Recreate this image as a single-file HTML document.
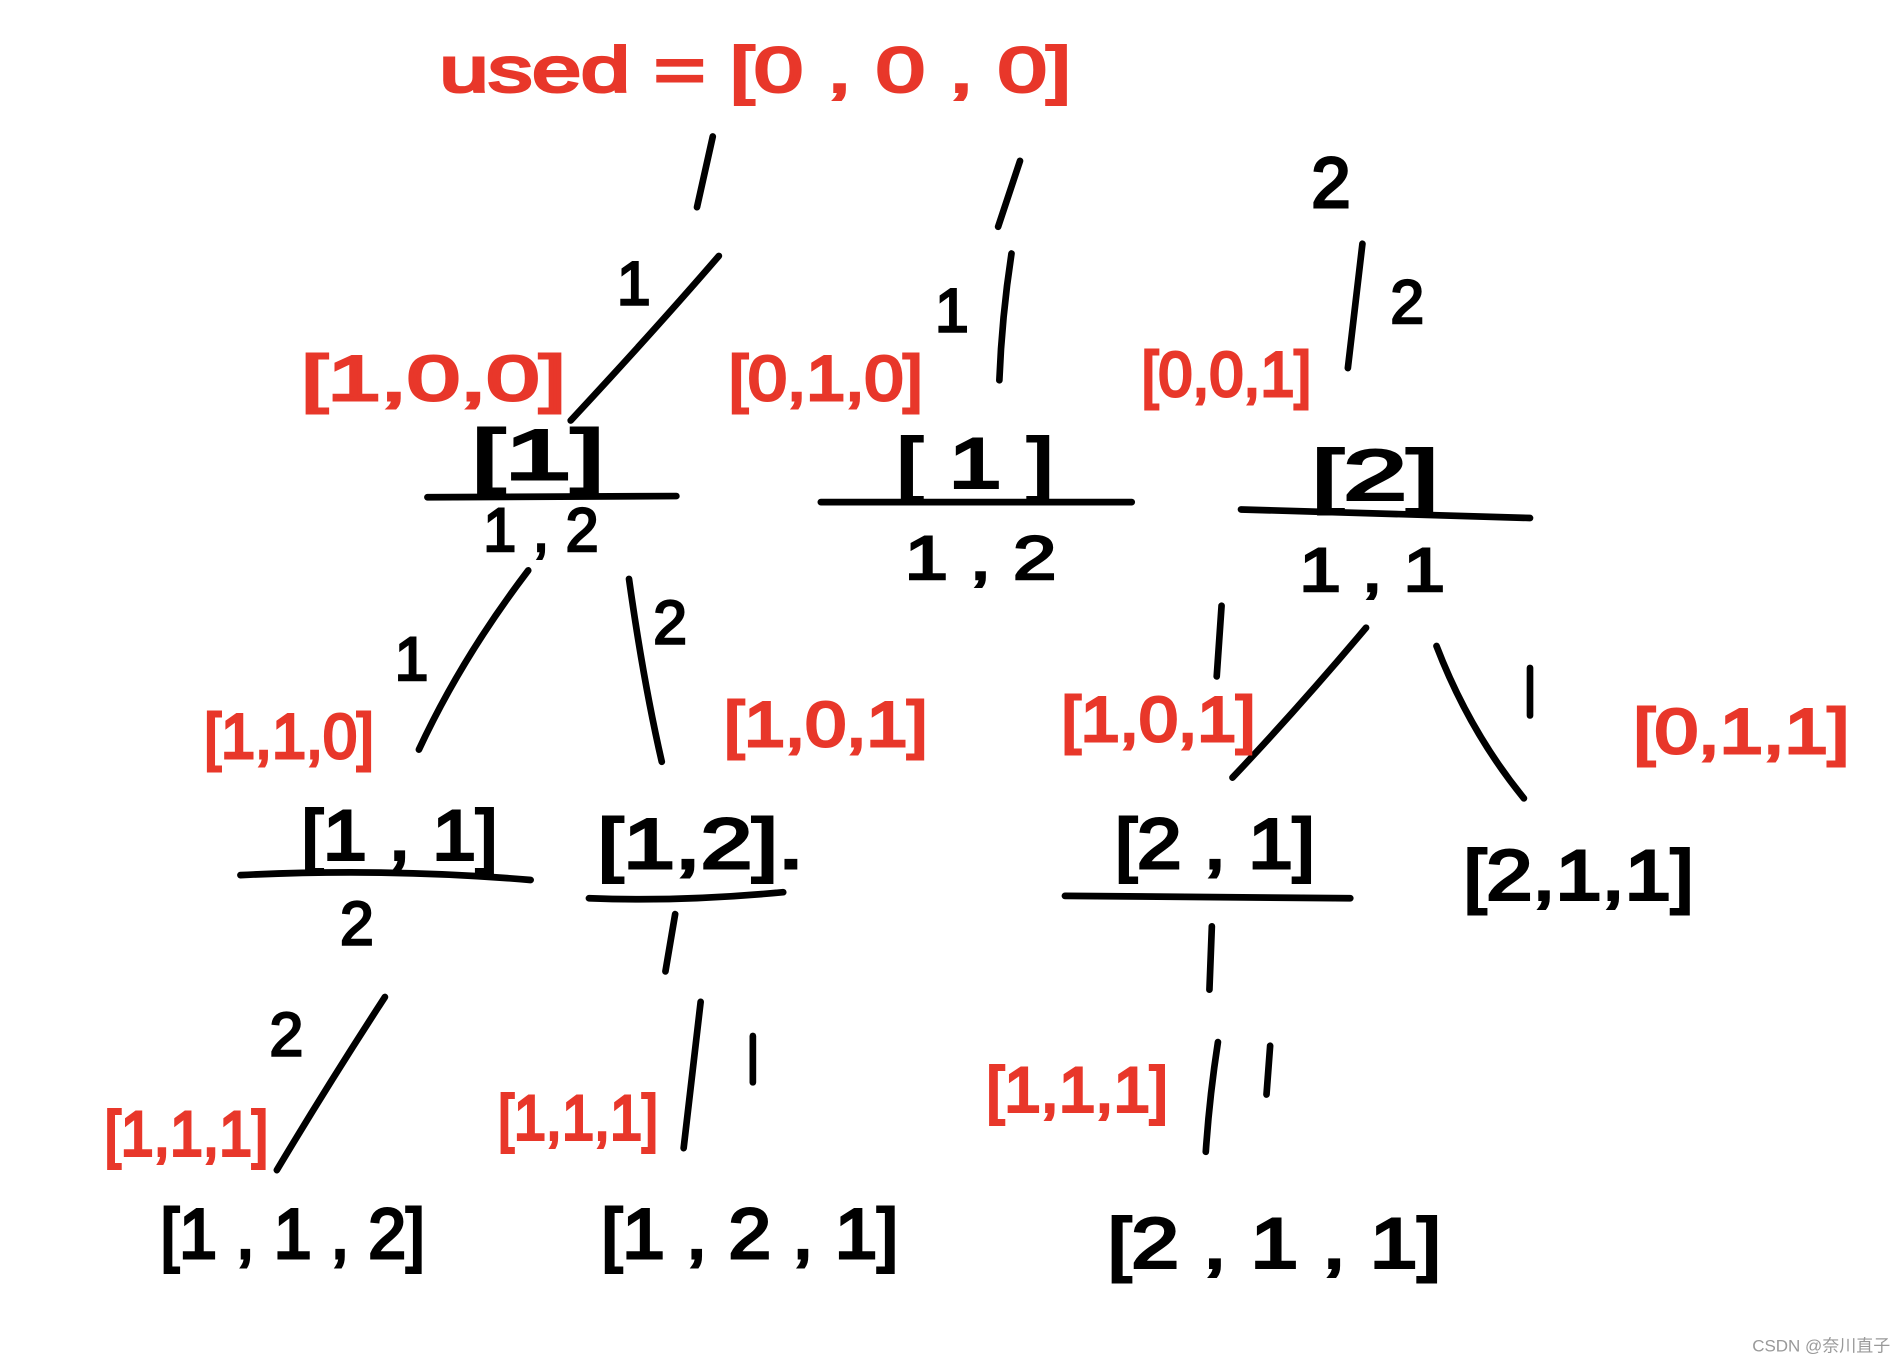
<!DOCTYPE html>
<html><head><meta charset="utf-8"><style>
html,body{margin:0;padding:0;background:#fff;}
svg{display:block;}
text{font-family:"Liberation Sans","Noto Sans CJK SC",sans-serif;}
.r{fill:#e8372a;stroke:#e8372a;stroke-width:2.5;font-size:52px;}
.b{fill:#000;stroke:#000;stroke-width:2.5;font-size:58px;}
.n{fill:#000;stroke:#000;stroke-width:2;font-size:50px;}
</style></head><body>
<svg width="1904" height="1359" viewBox="0 0 1568 1115" preserveAspectRatio="none" xmlns="http://www.w3.org/2000/svg">
<g stroke="#000" stroke-width="5.5" stroke-linecap="round" fill="none">
<path d="M587 112 L574 170"/><path d="M840 132 L822 186"/><path d="M592 210 Q540 270 470 345"/>
<path d="M833 208 Q825 260 823 312"/><path d="M1122 200 Q1115 260 1110 302"/>
<path d="M352 408 L557 407"/><path d="M676 412 L932 412"/><path d="M1022 418 L1260 425"/>
<path d="M435 468 Q380 540 345 615"/><path d="M518 475 Q530 560 545 625"/>
<path d="M1125 515 Q1070 580 1015 638"/><path d="M1183 530 Q1210 600 1255 655"/>
<path d="M198 718 Q320 712 437 722"/><path d="M485 737 Q560 740 645 732"/><path d="M877 735 L1112 737"/>
<path d="M556 750 L548 797"/><path d="M998 760 L996 812"/>
<path d="M317 818 Q270 890 228 960"/><path d="M577 822 Q570 880 563 942"/><path d="M1003 855 Q996 900 993 945"/>
<path d="M620 850 L620 888"/><path d="M1046 858 L1043 898"/>
<path d="M1006 497 L1002 555"/><path d="M1260 548 L1260 587"/>
</g>
<text class="r" x="362" y="75" font-size="76" textLength="520" lengthAdjust="spacingAndGlyphs">used = [0 , 0 , 0]</text>
<text class="r" x="248" y="328" textLength="218" lengthAdjust="spacingAndGlyphs">[1,0,0]</text>
<text class="r" x="600" y="328" textLength="160" lengthAdjust="spacingAndGlyphs">[0,1,0]</text>
<text class="r" x="940" y="325" textLength="140" lengthAdjust="spacingAndGlyphs">[0,0,1]</text>
<text class="r" x="168" y="622" textLength="140" lengthAdjust="spacingAndGlyphs">[1,1,0]</text>
<text class="r" x="596" y="612" textLength="168" lengthAdjust="spacingAndGlyphs">[1,0,1]</text>
<text class="r" x="874" y="608" textLength="160" lengthAdjust="spacingAndGlyphs">[1,0,1]</text>
<text class="r" x="1345" y="618" textLength="178" lengthAdjust="spacingAndGlyphs">[0,1,1]</text>
<text class="r" x="86" y="948" textLength="135" lengthAdjust="spacingAndGlyphs">[1,1,1]</text>
<text class="r" x="410" y="935" textLength="132" lengthAdjust="spacingAndGlyphs">[1,1,1]</text>
<text class="r" x="812" y="912" textLength="150" lengthAdjust="spacingAndGlyphs">[1,1,1]</text>
<text class="b" x="1080" y="170" font-size="54">2</text>
<text class="n" x="508" y="250">1</text><text class="n" x="770" y="272">1</text>
<text class="n" x="1145" y="265" font-size="54">2</text>
<text class="b" x="388" y="393" textLength="110" lengthAdjust="spacingAndGlyphs">[1]</text>
<text class="b" x="738" y="400" textLength="130" lengthAdjust="spacingAndGlyphs">[ 1 ]</text>
<text class="b" x="1080" y="410" textLength="105" lengthAdjust="spacingAndGlyphs">[2]</text>
<text class="n" x="398" y="452" textLength="95" lengthAdjust="spacingAndGlyphs">1 , 2</text>
<text class="n" x="745" y="475" textLength="125" lengthAdjust="spacingAndGlyphs">1 , 2</text>
<text class="n" x="1070" y="485" textLength="120" lengthAdjust="spacingAndGlyphs">1 , 1</text>
<text class="n" x="325" y="558">1</text><text class="n" x="538" y="528">2</text>
<text class="b" x="248" y="705" font-size="74" textLength="162" lengthAdjust="spacingAndGlyphs">[1 , 1]</text>
<text class="b" x="492" y="712" font-size="74" textLength="170" lengthAdjust="spacingAndGlyphs">[1,2].</text>
<text class="b" x="918" y="712" font-size="74" textLength="165" lengthAdjust="spacingAndGlyphs">[2 , 1]</text>
<text class="b" x="1205" y="738" font-size="90" textLength="190" lengthAdjust="spacingAndGlyphs">[2,1,1]</text>
<text class="n" x="280" y="775" font-size="48">2</text>
<text class="n" x="222" y="866" font-size="36">2</text>
<text class="b" x="132" y="1032" font-size="76" textLength="218" lengthAdjust="spacingAndGlyphs">[1 , 1 , 2]</text>
<text class="b" x="495" y="1032" font-size="80" textLength="245" lengthAdjust="spacingAndGlyphs">[1 , 2 , 1]</text>
<text class="b" x="912" y="1040" font-size="100" textLength="275" lengthAdjust="spacingAndGlyphs">[2 , 1 , 1]</text>
<text x="1443" y="1109" font-size="14" fill="#999">CSDN @奈川直子</text>
</svg>
</body></html>
